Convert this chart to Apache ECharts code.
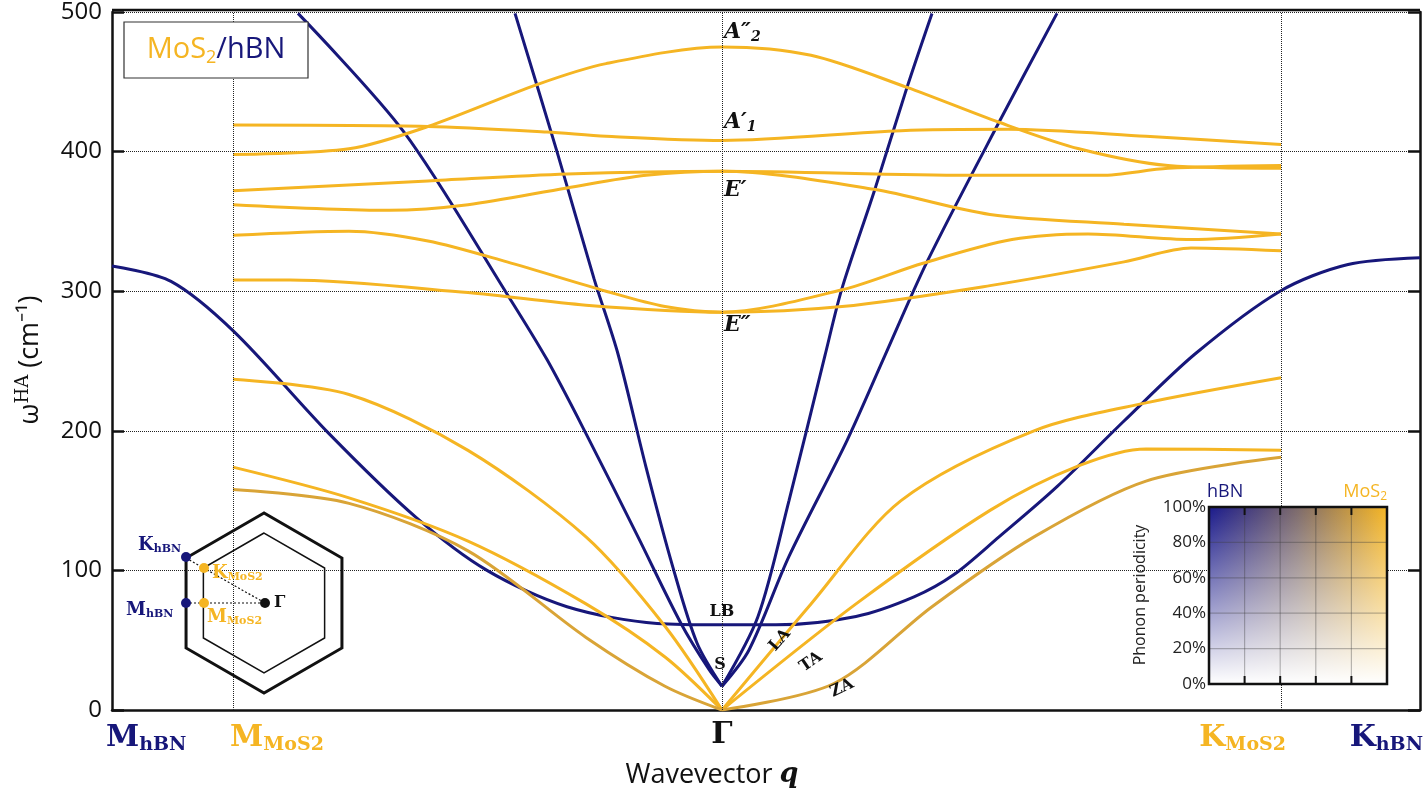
<!DOCTYPE html>
<html><head><meta charset="utf-8">
<script src="https://cdn.jsdelivr.net/npm/echarts@6/dist/echarts.min.js"></script>
<style>html,body{margin:0;padding:0;background:#fff}#main{width:1425px;height:795px}</style>
</head><body><div id="main"></div>
<script>
// x = distance along path (M_hBN=0, M_MoS2=121, Gamma=610, K_MoS2=1169, K_hBN=1308)
var xTicks = [121, 610, 1169];

// MoS2 bands (orange)
var mos2A2 = [[121,398],[237,402],[316,418],[425,448],[494,463],[610,475],[699,469],[795,446],[887,421],[967,402],[1056,390],[1169,388]];
var mos2A1 = [[121,419],[316,418],[435,414],[494,411],[610,408],[789,415],[896,416],[1034,411],[1169,405]];
var mos2E1a = [[121,372],[316,379],[455,384],[610,386],[856,383],[989,383],[1056,388],[1169,390]];
var mos2E1b = [[121,362],[277,358],[356,362],[455,374],[534,383],[610,386],[762,373],[878,355],[1012,348],[1169,341]];
var mos2E2a = [[121,340],[237,343],[316,336],[395,321],[494,300],[553,289],[610,285],[730,301],[811,320],[900,337],[976,341],[1079,337],[1169,341]];
var mos2E2b = [[121,308],[178,308],[356,299],[474,290],[610,285],[730,289],[878,304],[1012,321],[1079,331],[1169,329]];
var mos2LA_M = [[121,237],[237,226],[356,186],[474,124],[553,60],[610,0]];
var mos2LA_K = [[610,0],[699,76],[789,150],[922,200],[1034,220],[1169,238]];
var mos2TA_M = [[121,174],[237,152],[356,121],[474,76],[553,38],[610,0]];
var mos2TA_K = [[610,0],[744,76],[878,143],[967,175],[1034,187],[1169,186]];
var mos2ZA_M = [[121,158],[237,148],[356,114],[474,52],[553,17],[610,0]];
var mos2ZA_K = [[610,0],[722,19],[820,74],[922,124],[1034,164],[1169,181]];

// hBN bands (navy)
var hbnZO = [[0,318],[59,307],[122,271],[217,198],[304,138],[375,100],[455,74],[545,62],[610,61],[664,61],[744,67],[802,81],[842,97],[887,124],[945,160],[1012,207],[1083,255],[1168,300],[1235,319],[1308,324]];
var hbnLeft1 = [[186,499],[292,414],[395,298],[435,251],[474,198],[526,124],[569,62],[597,29],[610,17]];
var hbnLeft2 = [[403,499],[445,400],[482,309],[506,255],[534,174],[561,102],[585,48],[610,17]];
var hbnRight1 = [[610,17],[646,67],[677,150],[713,254],[730,302],[762,371],[795,446],[820,499]];
var hbnRight2 = [[610,17],[637,43],[677,110],[735,193],[773,254],[815,321],[887,421],[945,499]];

var yTicks = [0, 100, 200, 300, 400, 500];
var barTicks = ['0%', '20%', '40%', '60%', '80%', '100%'];

var navy = '#17177a', gold = '#f5b523';
var chart = echarts.init(document.getElementById('main'));

function band(data, color, w) {
  return {type: 'line', data: data, smooth: 0.3, showSymbol: false, symbol: 'none',
    lineStyle: {color: color, width: w || 3}, z: color === navy ? 3 : 4, silent: true};
}

var series = [
  band(hbnZO, navy), band(hbnLeft1, navy), band(hbnLeft2, navy), band(hbnRight1, navy), band(hbnRight2, navy),
  band(mos2A2, gold), band(mos2A1, gold), band(mos2E1a, gold), band(mos2E1b, gold), band(mos2E2a, gold),
  band(mos2E2b, gold), band(mos2LA_M, gold), band(mos2LA_K, gold), band(mos2TA_M, gold), band(mos2TA_K, gold),
  band(mos2ZA_M, '#d9a437'), band(mos2ZA_K, '#d9a437')
];
series[0].markLine = {silent: true, symbol: 'none', label: {show: false},
  lineStyle: {color: '#222', type: 'dotted', width: 1}, data: xTicks.map(function (v) { return {xAxis: v}; })};

// Colour bar
var bx = 1209, by = 507, bw = 178, bh = 177;
var barGraphics = [
  {type: 'rect', shape: {x: bx, y: by, width: bw, height: bh}, style: {fill: new echarts.graphic.LinearGradient(0, 0, 1, 0, [
    {offset: 0, color: '#1a1a8c'}, {offset: 0.5, color: '#7d6a6a'}, {offset: 1, color: '#f5b523'}])}, z: 10},
  {type: 'rect', shape: {x: bx, y: by, width: bw, height: bh}, style: {fill: new echarts.graphic.LinearGradient(0, 0, 0, 1, [
    {offset: 0, color: 'rgba(255,255,255,0)'}, {offset: 1, color: 'rgba(255,255,255,1)'}])}, z: 11},
  {type: 'rect', shape: {x: bx, y: by, width: bw, height: bh}, style: {fill: 'none', stroke: '#111', lineWidth: 2.5}, z: 13},
  {type: 'text', x: 1140, y: 595, rotation: Math.PI / 2, style: {text: 'Phonon periodicity', font: '16px "Open Sans"', fill: '#222', align: 'center', verticalAlign: 'middle'}, z: 14},
  {type: 'text', x: 1207, y: 492, style: {text: 'hBN', font: '18px "Open Sans"', fill: navy, align: 'left', verticalAlign: 'middle'}, z: 14},
  {type: 'text', x: 1387, y: 492, style: {text: '{a|MoS}{s|2}', align: 'right', verticalAlign: 'middle',
    rich: {a: {fontFamily: 'Open Sans', fontSize: 18, fill: gold}, s: {fontFamily: 'Open Sans', fontSize: 12, fill: gold, padding: [10, 0, 0, 0]}}}, z: 14}
];
barTicks.forEach(function (t, i) {
  var yy = by + bh - i * bh / 5;
  barGraphics.push({type: 'text', x: bx - 3, y: yy, style: {text: t, font: '17px "Open Sans"', fill: '#222', align: 'right', verticalAlign: 'middle'}, z: 14});
  if (i > 0 && i < 5) {
    barGraphics.push({type: 'line', shape: {x1: bx, y1: yy, x2: bx + bw, y2: yy}, style: {stroke: 'rgba(60,60,60,0.35)', lineWidth: 1.2}, z: 12});
    var xx = bx + i * bw / 5;
    barGraphics.push({type: 'line', shape: {x1: xx, y1: by, x2: xx, y2: by + bh}, style: {stroke: 'rgba(60,60,60,0.35)', lineWidth: 1.2}, z: 12});
    barGraphics.push({type: 'line', shape: {x1: xx, y1: by + bh - 8, x2: xx, y2: by + bh}, style: {stroke: '#111', lineWidth: 2}, z: 13});
    barGraphics.push({type: 'line', shape: {x1: xx, y1: by, x2: xx, y2: by + 8}, style: {stroke: '#111', lineWidth: 2}, z: 13});
  }
});

// Brillouin-zone inset
function hexPts(cx, cy, r) {
  var p = [];
  for (var k = 0; k < 6; k++) { var a = Math.PI / 2 + k * Math.PI / 3; p.push([cx + r * Math.cos(a), cy - r * Math.sin(a)]); }
  return p;
}
var bz = [
  {type: 'polygon', shape: {points: hexPts(264, 603, 90)}, style: {fill: 'none', stroke: '#111', lineWidth: 3}, z: 10},
  {type: 'polygon', shape: {points: hexPts(264, 603, 70)}, style: {fill: 'none', stroke: '#111', lineWidth: 1.5}, z: 10},
  {type: 'line', shape: {x1: 186, y1: 603, x2: 265, y2: 603}, style: {stroke: '#111', lineWidth: 1.2, lineDash: [2, 2]}, z: 10},
  {type: 'line', shape: {x1: 186, y1: 558, x2: 265, y2: 603}, style: {stroke: '#111', lineWidth: 1.2, lineDash: [2, 2]}, z: 10},
  {type: 'circle', shape: {cx: 265, cy: 603, r: 5}, style: {fill: '#111'}, z: 11},
  {type: 'circle', shape: {cx: 186, cy: 557, r: 5}, style: {fill: navy}, z: 11},
  {type: 'circle', shape: {cx: 186, cy: 603, r: 5}, style: {fill: navy}, z: 11},
  {type: 'circle', shape: {cx: 204, cy: 568, r: 5}, style: {fill: gold}, z: 11},
  {type: 'circle', shape: {cx: 204, cy: 603, r: 5}, style: {fill: gold}, z: 11},
  {type: 'text', x: 274, y: 603, style: {text: 'Γ', font: 'bold 16px "DejaVu Serif"', fill: '#111', verticalAlign: 'middle'}, z: 11}
];
function sub(x, y, main, s, color, size, align, italic) {
  return {type: 'text', x: x, y: y, z: 11, style: {text: '{a|' + main + '}{s|' + s + '}', align: align || 'left', verticalAlign: 'middle',
    rich: {a: {fontFamily: 'DejaVu Serif', fontWeight: 'bold', fontStyle: italic ? 'italic' : 'normal', fontSize: size, fill: color},
           s: {fontFamily: 'DejaVu Serif', fontWeight: 'bold', fontStyle: italic ? 'italic' : 'normal', fontSize: Math.round(size * 0.62), fill: color, padding: [Math.round(size * 0.5), 0, 0, 0]}}}};
}
bz.push(sub(138, 545, 'K', 'hBN', navy, 18), sub(212, 573, 'K', 'MoS2', gold, 18),
        sub(126, 610, 'M', 'hBN', navy, 18), sub(207, 617, 'M', 'MoS2', gold, 18));

// Mode labels
function modeTxt(x, y, t, size, rot) {
  return {type: 'text', x: x, y: y, rotation: rot || 0, z: 12, style: {text: t, font: 'bold italic ' + size + 'px "DejaVu Serif"', fill: '#111', align: 'left', verticalAlign: 'middle'}};
}
function small(x, y, t, rot) {
  return {type: 'text', x: x, y: y, rotation: rot || 0, z: 12, style: {text: t, font: 'bold 16px "DejaVu Serif"', fill: '#111', align: 'center', verticalAlign: 'middle'}};
}
var labels = [
  sub(724, 32, 'A″', '2', '#111', 22, 'left', true), sub(724, 122, 'A′', '1', '#111', 22, 'left', true),
  modeTxt(724, 190, 'E′', 22), modeTxt(724, 325, 'E″', 22),
  small(722, 612, 'LB'), small(720, 665, 'S'),
  small(780, 640, 'LA', 0.85), small(811, 662, 'TA', 0.6), small(842, 688, 'ZA', 0.45),
  // high-symmetry point labels
  sub(106, 738, 'M', 'hBN', navy, 30), sub(230, 738, 'M', 'MoS2', gold, 30),
  {type: 'text', x: 722, y: 735, z: 12, style: {text: 'Γ', font: 'bold 30px "DejaVu Serif"', fill: '#111', align: 'center', verticalAlign: 'middle'}},
  sub(1286, 738, 'K', 'MoS2', gold, 30, 'right'), sub(1423, 738, 'K', 'hBN', navy, 30, 'right'),
  {type: 'text', x: 712, y: 775, z: 12, style: {text: '{a|Wavevector }{b|q}', align: 'center', verticalAlign: 'middle',
    rich: {a: {fontFamily: 'Open Sans', fontSize: 27, fill: '#111'}, b: {fontFamily: 'DejaVu Serif', fontStyle: 'italic', fontWeight: 'bold', fontSize: 27, fill: '#111'}}}},
  {type: 'text', x: 30, y: 360, rotation: Math.PI / 2, z: 12, style: {text: '{a|ω}{s|HA}{a| (cm⁻¹)}', align: 'center', verticalAlign: 'middle',
    rich: {a: {fontFamily: 'Open Sans', fontSize: 27, fill: '#111'}, s: {fontFamily: 'DejaVu Serif', fontSize: 18, fill: '#111', padding: [0, 0, 14, 0]}}}},
  // legend box
  {type: 'rect', shape: {x: 124, y: 22, width: 184, height: 56}, style: {fill: '#fff', stroke: '#333', lineWidth: 1.2}, z: 12},
  {type: 'text', x: 216, y: 50, z: 13, style: {text: '{a|MoS}{s|2}{b|/hBN}', align: 'center', verticalAlign: 'middle',
    rich: {a: {fontFamily: 'Open Sans', fontSize: 29, fill: gold}, s: {fontFamily: 'Open Sans', fontSize: 18, fill: gold, padding: [16, 0, 0, 0]},
           b: {fontFamily: 'Open Sans', fontSize: 29, fill: navy}}}}
];

chart.setOption({
  animation: false,
  grid: {left: 112, right: 5, top: 10, bottom: 85},
  xAxis: {type: 'value', min: 0, max: 1308, axisLabel: {show: false}, axisTick: {show: false}, splitLine: {show: false},
    axisLine: {lineStyle: {color: '#111', width: 2.5}}},
  yAxis: [
    {type: 'value', min: yTicks[0], max: yTicks[yTicks.length - 1], interval: 100,
      axisLabel: {fontFamily: 'Open Sans', fontSize: 24, color: '#111', margin: 10},
      axisTick: {inside: true, length: 12, lineStyle: {color: '#111', width: 2.5}},
      axisLine: {show: true, lineStyle: {color: '#111', width: 2.5}},
      splitLine: {lineStyle: {color: '#222', type: 'dotted', width: 1}}},
    {type: 'value', position: 'right', min: 0, max: 500, interval: 100, axisLabel: {show: false},
      axisTick: {inside: true, length: 12, lineStyle: {color: '#111', width: 2.5}},
      axisLine: {show: true, lineStyle: {color: '#111', width: 2.5}}, splitLine: {show: false}}
  ],
  series: series,
  graphic: [
    {type: 'line', shape: {x1: 112, y1: 10, x2: 1420, y2: 10}, style: {stroke: '#111', lineWidth: 2.5}, z: 5}
  ].concat(barGraphics, bz, labels)
});
</script></body></html>
